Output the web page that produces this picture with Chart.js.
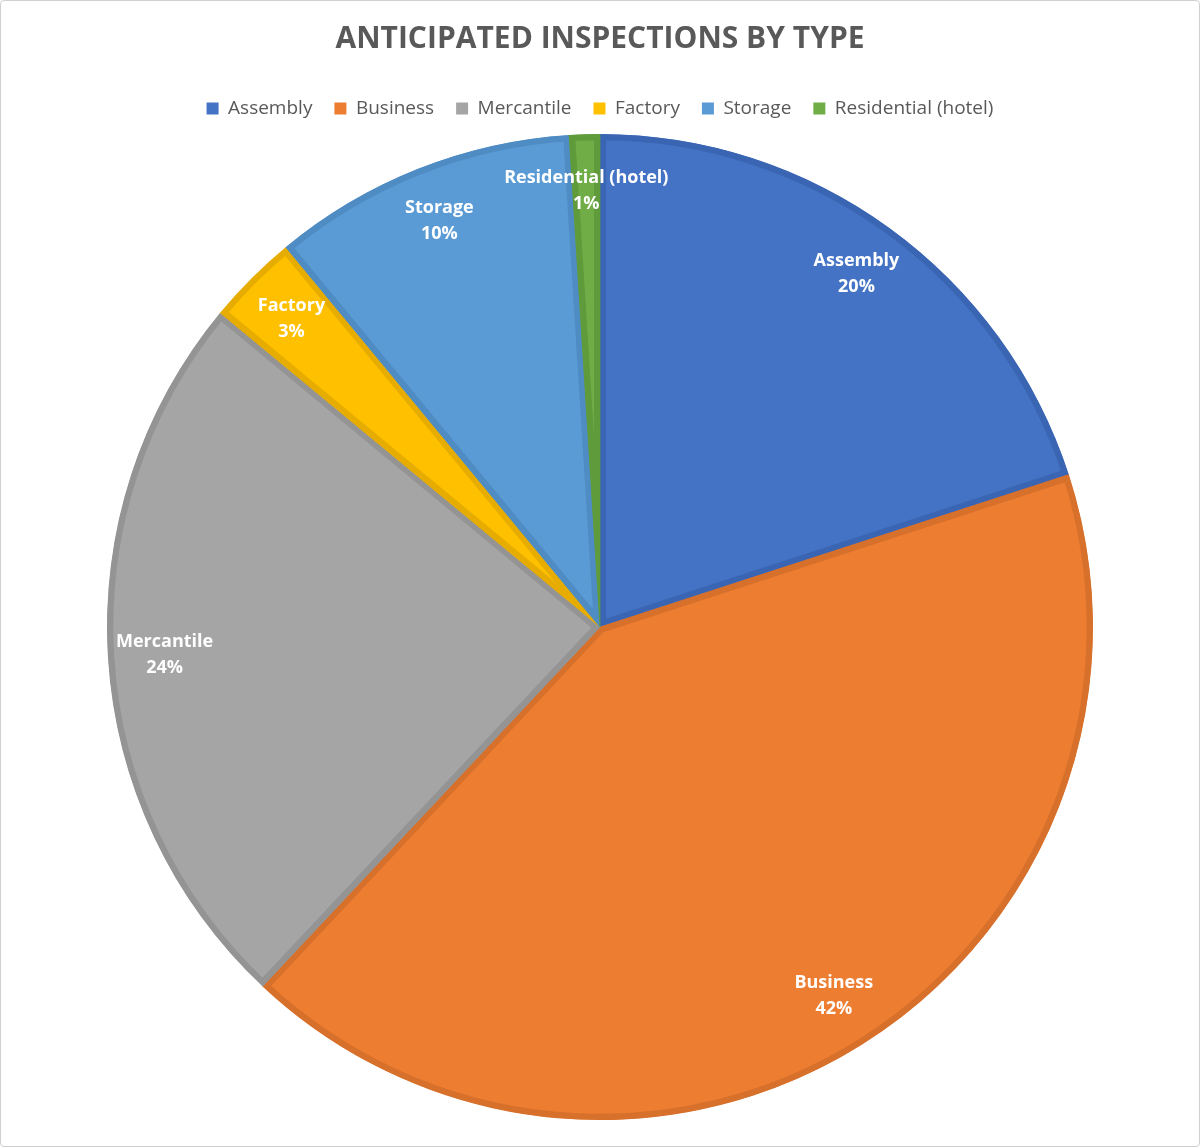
<!DOCTYPE html>
<html><head><meta charset="utf-8">
<script src="https://cdn.jsdelivr.net/npm/chart.js@4"></script>
<style>
html,body{margin:0;padding:0;background:#fff;}
#wrap{position:absolute;left:0;top:0;width:1198px;height:1145px;border:1px solid #d0d0d0;border-radius:4px;}
</style></head><body>
<div id="wrap"><canvas id="c" width="1198" height="1145"></canvas></div>
<script>
const categories = ["Assembly","Business","Mercantile","Factory","Storage","Residential (hotel)"];
const values = [20,42,24,3,10,1];
const colors = ["#4472C4","#ED7D31","#A5A5A5","#FFC000","#5B9BD5","#70AD47"];
const borders = ["#3A65B3","#D6702B","#949494","#E6AD00","#4F8CC3","#5F9A3B"];

const labelPlugin = {
  id:'sliceLabels',
  afterDatasetsDraw(chart){
    const ctx = chart.ctx;
    const meta = chart.getDatasetMeta(0);
    const total = values.reduce((a,b)=>a+b,0);
    ctx.save();
    ctx.fillStyle = '#fff';
    ctx.textAlign = 'center';
    ctx.textBaseline = 'middle';
    ctx.font = 'bold 18px "Open Sans", sans-serif';
    meta.data.forEach((arc,i)=>{
      const p = arc.getProps(['x','y','startAngle','endAngle','outerRadius'],true);
      const mid = (p.startAngle+p.endAngle)/2;
      const r = p.outerRadius*0.885;
      const x = p.x+Math.cos(mid)*r, y = p.y+Math.sin(mid)*r;
      ctx.fillText(categories[i], x, y-13);
      ctx.fillText(Math.round(values[i]/total*100)+'%', x, y+13);
    });
    ctx.restore();
  }
};
const legendSpace = {
  id:'legendSpace',
  beforeInit(chart){
    const orig = chart.legend && chart.legend.fit;
  },
  afterUpdate(){}
};

const ch = new Chart(document.getElementById('c'),{
  type:'pie',
  data:{labels:categories,datasets:[{data:values,backgroundColor:colors,borderColor:borders,borderWidth:6,borderAlign:'inner'}]},
  options:{
    responsive:false,animation:false,
    layout:{padding:{top:0,bottom:26,left:10,right:10}},
    plugins:{
      title:{display:true,text:'ANTICIPATED INSPECTIONS BY TYPE',color:'#595959',
        font:{family:'"Open Sans", sans-serif',size:30,weight:'bold'},padding:{top:20,bottom:20}},
      legend:{position:'top',labels:{color:'#595959',font:{family:'"Open Sans", sans-serif',size:19},
        boxWidth:12,boxHeight:12,padding:22,
        generateLabels(chart){return categories.map((c,i)=>({text:c,fillStyle:colors[i],strokeStyle:colors[i],lineWidth:0,index:i,fontColor:'#595959'}));}}},
      tooltip:{enabled:false}
    }
  },
  plugins:[labelPlugin,{
    id:'legendPad',
    beforeInit(chart){
      const L = chart.legend;
      if(L){const f=L.fit.bind(L);L.fit=function(){f();this.height+=6;};}
    }
  }]
});
</script></body></html>
